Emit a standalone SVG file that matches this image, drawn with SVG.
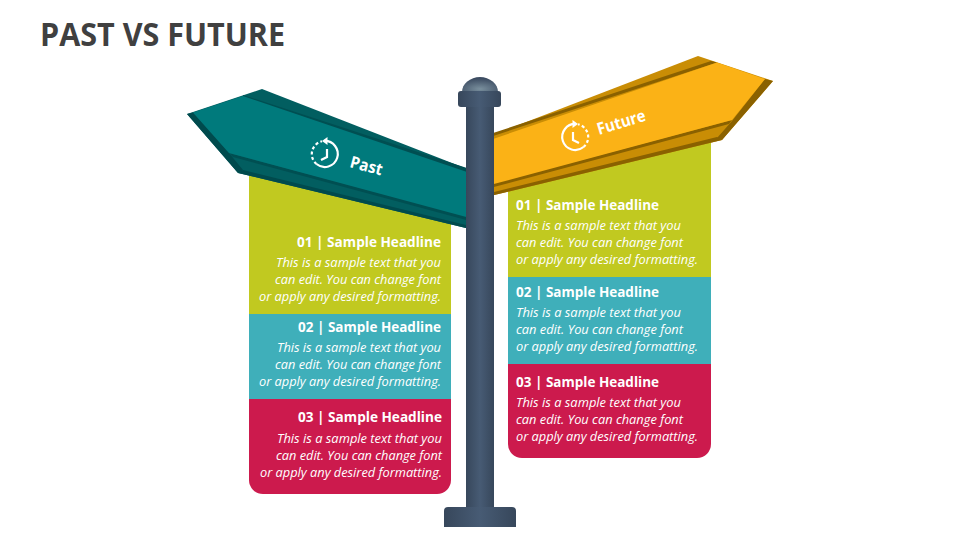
<svg xmlns="http://www.w3.org/2000/svg" width="960" height="540" viewBox="0 0 960 540">
<style>
text{font-family:"Open Sans","Noto Sans","Liberation Sans",sans-serif;fill:#fff}
.t{font-size:33px;font-weight:700;fill:#404040}
.h{font-size:14.6px;font-weight:700}
.b{font-size:12.8px;font-style:italic;font-weight:400}
.s{font-size:16.5px;font-weight:700}
.g{fill:#c1c920}.c{fill:#3fafba}.r{fill:#cc1a4d}
.i{fill:none;stroke:#fff;stroke-width:2.2}
</style>
<defs>
<linearGradient id="pg" x1="0" x2="1" y1="0" y2="0"><stop offset="0" stop-color="#37475b"/><stop offset=".5" stop-color="#475b74"/><stop offset="1" stop-color="#37475b"/></linearGradient>
<radialGradient id="dg" cx=".5" cy=".8" r=".7"><stop offset="0" stop-color="#7a909e"/><stop offset="1" stop-color="#3c4c62"/></radialGradient>
</defs>
<text class="t" x="40" y="46" textLength="245" lengthAdjust="spacingAndGlyphs">PAST VS FUTURE</text>

<g id="past-panel">
<path class="g" d="M249 174L451 222V314H249Z"/>
<rect class="c" x="249" y="314" width="202" height="85"/>
<path class="r" d="M249 399H451V480a14 14 0 0 1-14 14H263a14 14 0 0 1-14-14Z"/>
<text class="h" x="297" y="247" textLength="144" lengthAdjust="spacingAndGlyphs">01 | Sample Headline</text>
<text class="b" x="276" y="267" textLength="165" lengthAdjust="spacingAndGlyphs">This is a sample text that you</text>
<text class="b" x="275" y="284" textLength="166" lengthAdjust="spacingAndGlyphs">can edit. You can change font</text>
<text class="b" x="259" y="301" textLength="182" lengthAdjust="spacingAndGlyphs">or apply any desired formatting.</text>
<text class="h" x="298" y="332" textLength="143" lengthAdjust="spacingAndGlyphs">02 | Sample Headline</text>
<text class="b" x="277" y="352" textLength="164" lengthAdjust="spacingAndGlyphs">This is a sample text that you</text>
<text class="b" x="275" y="369" textLength="166" lengthAdjust="spacingAndGlyphs">can edit. You can change font</text>
<text class="b" x="259" y="386" textLength="182" lengthAdjust="spacingAndGlyphs">or apply any desired formatting.</text>
<text class="h" x="298" y="422" textLength="144" lengthAdjust="spacingAndGlyphs">03 | Sample Headline</text>
<text class="b" x="277" y="443" textLength="165" lengthAdjust="spacingAndGlyphs">This is a sample text that you</text>
<text class="b" x="276" y="460" textLength="166" lengthAdjust="spacingAndGlyphs">can edit. You can change font</text>
<text class="b" x="260" y="477" textLength="182" lengthAdjust="spacingAndGlyphs">or apply any desired formatting.</text>
</g>

<g id="future-panel">
<path class="g" d="M508 190L711 140V277H508Z"/>
<rect class="c" x="508" y="277" width="203" height="87"/>
<path class="r" d="M508 364H711V444a14 14 0 0 1-14 14H522a14 14 0 0 1-14-14Z"/>
<text class="h" x="516" y="210" textLength="143" lengthAdjust="spacingAndGlyphs">01 | Sample Headline</text>
<text class="b" x="516" y="230" textLength="165" lengthAdjust="spacingAndGlyphs">This is a sample text that you</text>
<text class="b" x="516" y="247" textLength="167" lengthAdjust="spacingAndGlyphs">can edit. You can change font</text>
<text class="b" x="516" y="264" textLength="182" lengthAdjust="spacingAndGlyphs">or apply any desired formatting.</text>
<text class="h" x="516" y="297" textLength="143" lengthAdjust="spacingAndGlyphs">02 | Sample Headline</text>
<text class="b" x="516" y="317" textLength="165" lengthAdjust="spacingAndGlyphs">This is a sample text that you</text>
<text class="b" x="516" y="334" textLength="167" lengthAdjust="spacingAndGlyphs">can edit. You can change font</text>
<text class="b" x="516" y="351" textLength="182" lengthAdjust="spacingAndGlyphs">or apply any desired formatting.</text>
<text class="h" x="516" y="387" textLength="143" lengthAdjust="spacingAndGlyphs">03 | Sample Headline</text>
<text class="b" x="516" y="407" textLength="165" lengthAdjust="spacingAndGlyphs">This is a sample text that you</text>
<text class="b" x="516" y="424" textLength="167" lengthAdjust="spacingAndGlyphs">can edit. You can change font</text>
<text class="b" x="516" y="441" textLength="182" lengthAdjust="spacingAndGlyphs">or apply any desired formatting.</text>
</g>

<g id="past-sign">
<path fill="#025e60" d="M187 114L262 89L470 170V229L238 173Z"/>
<path fill="#004a4d" d="M187 114L193 112.500L229 153L243 170L238 173Z"/>
<path fill="#004f52" d="M243 95L470 169V174L243 98ZM229 153L470 217V221L233 157Z"/>
<path fill="#004a4d" d="M243 170L470 226V229L238 173Z"/>
<path fill="#007a7c" d="M193 112.500L243 96L470 173V218L229 153Z"/>
<g transform="translate(325 154)">
<path class="i" d="M-1 -13A13 13 0 1 1 -8.500 10"/>
<path class="i" stroke-dasharray="3 2.400" d="M-8.500 10A13 13 0 0 1 -3 -12.700"/>
<path fill="#fff" d="M-3 -13L2.500 -17V-9Z"/>
<path class="i" d="M2 -5V3L-4 6"/>
</g>
<text class="s" transform="translate(349 167) rotate(15)" textLength="33" lengthAdjust="spacingAndGlyphs">Past</text>
</g>

<g id="future-sign">
<path fill="#c98d05" d="M490 136L698 56L773 81L722 140L490 196Z"/>
<path fill="#8a6100" d="M765 79L773 81L722 140L717 138L732 121Z"/>
<path fill="#8a6100" d="M490 137L717 62.500L711 61L490 134ZM490 184L732 120L729 124L490 188ZM490 193L717 137L722 140L490 196Z"/>
<path fill="#fbb216" d="M490 140L717 62.500L765 79L732 120L490 185Z"/>
<g transform="translate(575 137)">
<path class="i" d="M1 -13A13 13 0 1 0 8.500 10"/>
<path class="i" stroke-dasharray="3 2.400" d="M8.500 10A13 13 0 0 0 3 -12.700"/>
<path fill="#fff" d="M3 -13L-2.500 -17V-9Z"/>
<path class="i" d="M-2 -5V3L4 6"/>
</g>
<text class="s" transform="translate(599 135) rotate(-17)" textLength="50" lengthAdjust="spacingAndGlyphs">Future</text>
</g>

<g id="post">
<rect x="466" y="100" width="28" height="410" fill="url(#pg)"/>
<path d="M462 92A18 15 0 0 1 498 92Z" fill="url(#dg)"/>
<rect x="458" y="91" width="43" height="16" rx="3" fill="url(#pg)"/>
<path d="M444 527V511a4 4 0 0 1 4-4H512a4 4 0 0 1 4 4V527Z" fill="url(#pg)"/>
</g>
</svg>
